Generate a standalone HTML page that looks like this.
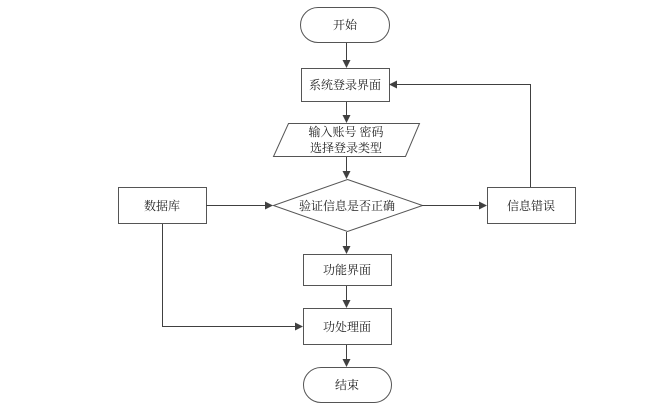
<!DOCTYPE html>
<html><head><meta charset="utf-8"><style>
html,body{margin:0;padding:0;background:#fff;width:668px;height:403px;overflow:hidden}
svg text{font-family:"Liberation Serif","Noto Serif CJK SC","Noto Sans CJK SC",serif;font-size:12px;fill:#222}
</style></head><body>
<svg width="668" height="403" viewBox="0 0 668 403" xmlns="http://www.w3.org/2000/svg">
<defs><marker id="a" markerWidth="8" markerHeight="8" refX="7" refY="4" orient="auto" markerUnits="userSpaceOnUse"><path d="M0,0 L8,4 L0,8 z" fill="#404040"/></marker></defs>
<g fill="#fff" stroke="#555" stroke-width="1">
<rect x="300.5" y="7.5" width="89" height="35" rx="17.5"/>
<rect x="301.5" y="68.5" width="88" height="33"/>
<polygon points="288.5,123.5 419.5,123.5 405.5,156.5 273.5,156.5"/>
<polygon points="347.5,179.5 422.5,205.5 347.5,231.5 273.5,205.5"/>
<rect x="118.5" y="187.5" width="88" height="36"/>
<rect x="487.5" y="187.5" width="88" height="36"/>
<rect x="303.5" y="254.5" width="88" height="31"/>
<rect x="303.5" y="308.5" width="88" height="36"/>
<rect x="303.5" y="367.5" width="88" height="35" rx="17.5"/>
</g>
<g stroke="#404040" stroke-width="1" fill="none">
<line x1="346.5" y1="43" x2="346.5" y2="67" marker-end="url(#a)"/>
<line x1="346.5" y1="102" x2="346.5" y2="122" marker-end="url(#a)"/>
<line x1="346.5" y1="157" x2="346.5" y2="178" marker-end="url(#a)"/>
<line x1="206" y1="205.5" x2="272" y2="205.5" marker-end="url(#a)"/>
<line x1="422" y1="205.5" x2="486" y2="205.5" marker-end="url(#a)"/>
<polyline points="530.5,187 530.5,84.5 390,84.5" marker-end="url(#a)"/>
<line x1="346.5" y1="232" x2="346.5" y2="253" marker-end="url(#a)"/>
<line x1="346.5" y1="286" x2="346.5" y2="307" marker-end="url(#a)"/>
<polyline points="162.5,224 162.5,326.5 302,326.5" marker-end="url(#a)"/>
<line x1="346.5" y1="345" x2="346.5" y2="366" marker-end="url(#a)"/>
</g>
<g text-anchor="middle">
<text x="345" y="29">开始</text>
<text x="345" y="89">系统登录界面</text>
<text x="346" y="136">输入账号 密码</text>
<text x="346" y="152">选择登录类型</text>
<text x="347" y="210">验证信息是否正确</text>
<text x="162" y="210">数据库</text>
<text x="531" y="210">信息错误</text>
<text x="347" y="274">功能界面</text>
<text x="347" y="331">功处理面</text>
<text x="347" y="389">结束</text>
</g>
</svg>
</body></html>
